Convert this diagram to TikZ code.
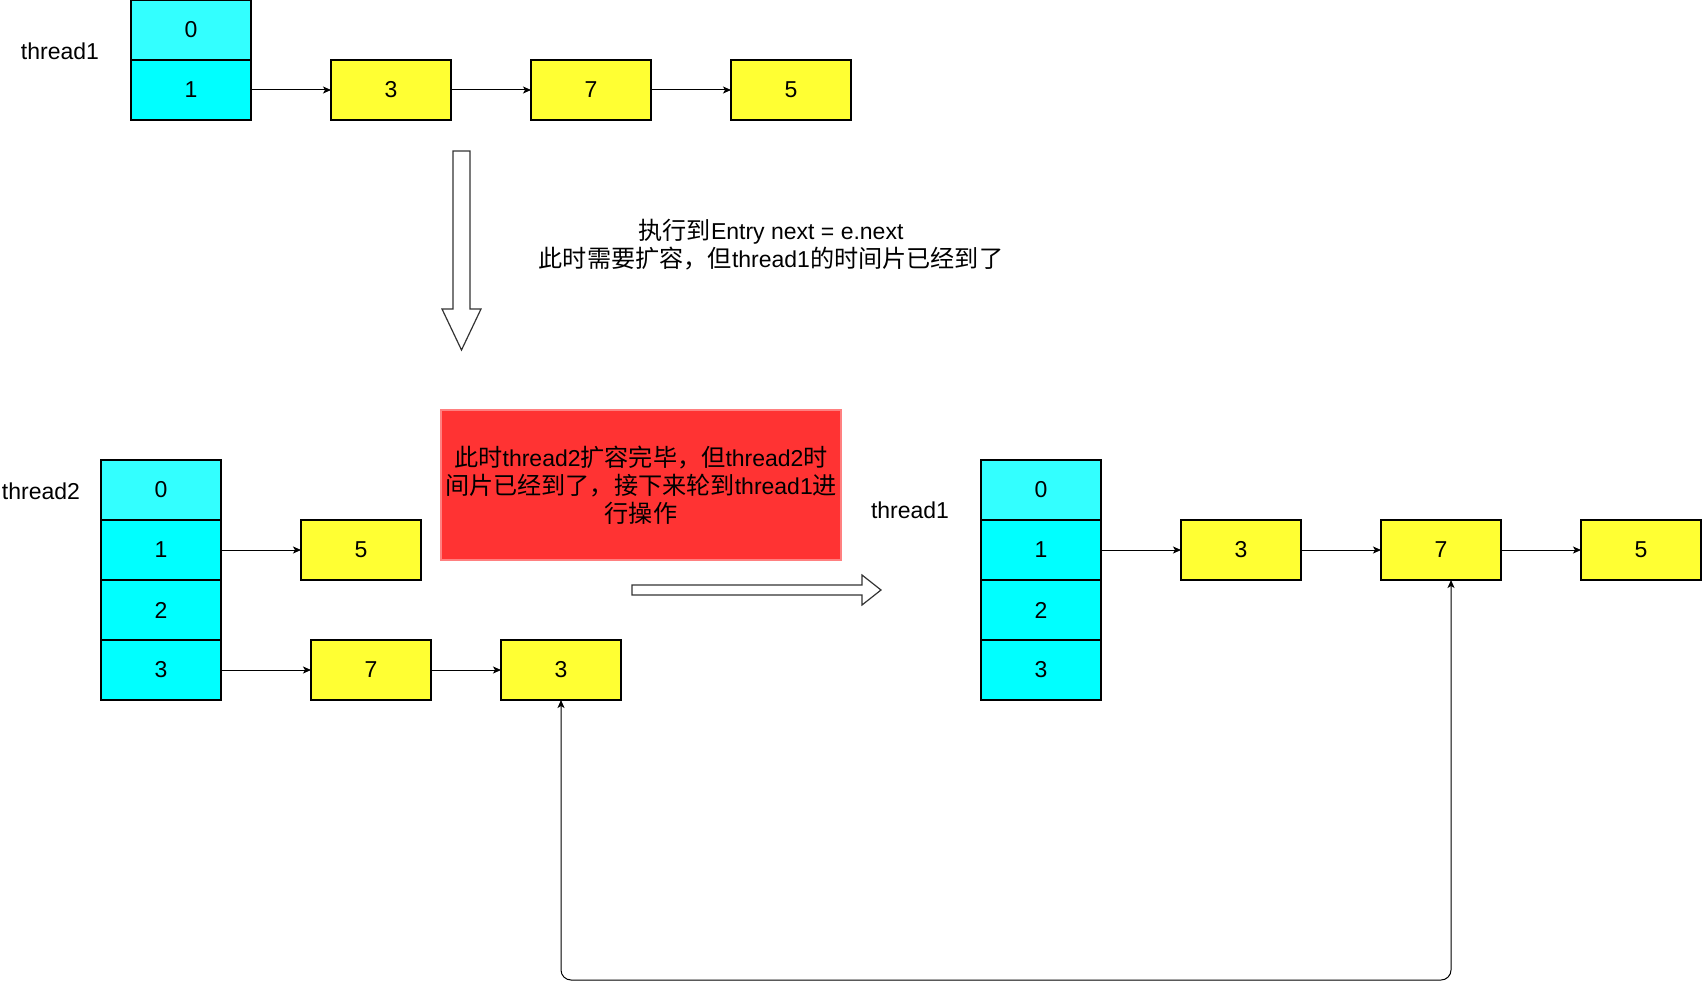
\documentclass[tikz,border=0pt]{standalone}
\usepackage{fontspec}
\setmainfont{Liberation Sans}
\newfontfamily\cjk[Scale=1.05]{Noto Sans CJK SC}
\newcommand{\zh}[1]{{\cjk #1}}
\usetikzlibrary{arrows.meta, positioning}
\definecolor{slotcyan}{HTML}{00FFFF}
\definecolor{slotcyanlt}{HTML}{33FFFF}
\definecolor{entryyellow}{HTML}{FFFF33}
\definecolor{notered}{HTML}{FF3333}
\definecolor{noteline}{HTML}{FF8080}

\begin{document}
\begin{tikzpicture}[x=0.5pt, y=-0.5pt, node distance=40pt,
    font=\fontsize{11.5}{14}\selectfont,
    >={Stealth[length=4pt, width=3.5pt, inset=1pt]},
    slot/.style={rectangle, draw=black, line width=0.6pt, fill=slotcyan, minimum width=60pt, minimum height=30pt, inner sep=0pt, outer sep=0pt},
    entry/.style={slot, fill=entryyellow},
    link/.style={line width=0.5pt, ->},
    fatarrow/.style={draw=black!80, line width=0.6pt, fill=white},
    note/.style={rectangle, draw=noteline, line width=0.6pt, fill=notered, minimum width=200pt, minimum height=75pt, align=center, inner sep=0pt}]

  \useasboundingbox (0,0) rectangle (1702,990);

  % thread1 before the resize
  \node (lblold) at (60,51) {thread1};
  \node[slot, fill=slotcyanlt] (o0) at (191,30) {0};
  \node[slot, below=0pt of o0] (o1) {1};
  \node[entry, right=of o1] (oe3) {3};
  \node[entry, right=of oe3] (oe7) {7};
  \node[entry, right=of oe7] (oe5) {5};

  \draw[link] (o1) -- (oe3);
  \draw[link] (oe3) -- (oe7);
  \draw[link] (oe7) -- (oe5);

  % step arrow and message
  \draw[fatarrow] (453,151) -- (470,151) -- (470,309) -- (481,309) -- (461.5,350) -- (442,309) -- (453,309) -- cycle;
  \node[align=center] (msg) at (771,245) {\zh{执行到}Entry next = e.next\\\zh{此时需要扩容，但}thread1\zh{的时间片已经到了}};

  % thread2 after its resize
  \node (lblmid) at (41,491) {thread2};
  \node[slot, fill=slotcyanlt] (m0) at (161,490) {0};
  \node[slot, below=0pt of m0] (m1) {1};
  \node[slot, below=0pt of m1] (m2) {2};
  \node[slot, below=0pt of m2] (m3) {3};
  \node[entry, right=of m1] (me5) {5};
  \node[entry, right=45pt of m3] (me7) {7};
  \node[entry, right=35pt of me7] (me3) {3};

  \draw[link] (m1) -- (me5);
  \draw[link] (m3) -- (me7);
  \draw[link] (me7) -- (me3);

  \node[note] (note) at (641,485) {\zh{此时}thread2\zh{扩容完毕，但}thread2\zh{时}\\\zh{间片已经到了，接下来轮到}thread1\zh{进}\\\zh{行操作}};
  \draw[fatarrow] (632,585) -- (862,585) -- (862,575) -- (881,590) -- (862,605) -- (862,595) -- (632,595) -- cycle;

  % thread1 resumes
  \node (lblnew) at (910,510) {thread1};
  \node[slot, fill=slotcyanlt] (n0) at (1041,490) {0};
  \node[slot, below=0pt of n0] (n1) {1};
  \node[slot, below=0pt of n1] (n2) {2};
  \node[slot, below=0pt of n2] (n3) {3};
  \node[entry, right=of n1] (ne3) {3};
  \node[entry, right=of ne3] (ne7) {7};
  \node[entry, right=of ne7] (ne5) {5};

  \draw[link] (n1) -- (ne3);
  \draw[link] (ne3) -- (ne7);
  \draw[link] (ne7) -- (ne5);

  % the loop between 3 and 7
  \coordinate (loopbase) at (0,980);
  \draw[link, <->, rounded corners=5pt] (me3.south) -- (me3.south |- loopbase) -| ([xshift=5pt]ne7.south);
\end{tikzpicture}
\end{document}
